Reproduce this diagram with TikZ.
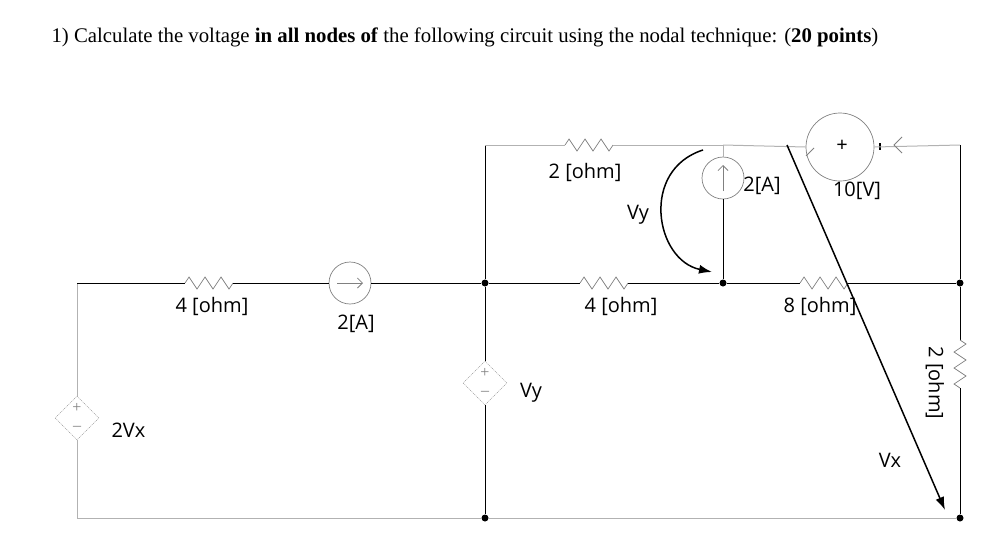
\documentclass[tikz,border=0pt]{standalone}
\usepackage{fontspec}
\setmainfont{Liberation Serif}
\newfontfamily\lab{Open Sans}
\usetikzlibrary{shapes.geometric,arrows.meta,decorations.pathmorphing}
\begin{document}
\begin{tikzpicture}[x=1pt,y=-1pt,
  wire/.style={line width=1pt},
  gwire/.style={line width=1pt,gray!60},
  res/.style={decorate,decoration={zigzag,segment length=16pt,amplitude=6pt},line width=0.7pt,gray},
  srcc/.style={circle,draw=gray,line width=0.7pt,minimum size=42pt,inner sep=0pt},
  dep/.style={diamond,draw=gray,dashed,dash pattern=on 1pt off 1pt,minimum size=44pt,inner sep=0pt,fill=white},
  lbl/.style={font=\lab\fontsize{20}{24}\selectfont},
  pm/.style={gray,font=\fontsize{16}{16}\selectfont},
  dot/.style={circle,fill=black,inner sep=0pt,minimum size=7pt}]
\useasboundingbox (0,0) rectangle (990,558);
\node[anchor=west,font=\fontsize{20.8}{24}\selectfont] (title) at (48,37) {1) Calculate the voltage \textbf{in all nodes of} the following circuit using the nodal technique: (\textbf{20 points})};
% nodes
\coordinate (tl) at (485,145); \coordinate (tr) at (960,145);
\coordinate (ml) at (77,283);
\node[dot] (n1) at (485,283) {}; \node[dot] (n2) at (723,283) {};
\node[dot] (n3) at (960,283) {}; \node[dot] (b1) at (485,518) {};
\node[dot] (b2) at (960,518) {}; \coordinate (bl) at (77,518);
\coordinate (t2) at (723,145);
% left branch
\node[dep] (d1) at (77,418) {}; \node[pm] at (77,408) {+}; \node[pm] at (77,428) {--};
\draw[gwire] (ml) -- (d1.north); \draw[gwire] (d1.south) -- (bl);
\node[lbl,anchor=west] (l2vx) at (108,430) {2Vx};
% top-left wire
\coordinate (r1a) at (185,283); \coordinate (r1b) at (233,283);
\draw[wire] (ml) -- (r1a); \draw[res] (r1a) -- (r1b);
\node[srcc] (cs1) at (350,283) {};
\draw[-{Straight Barb[length=5pt,width=10pt]},gray,line width=0.8pt] (337,283) -- (363,283);
\draw[wire] (r1b) -- (cs1.west); \draw[wire] (cs1.east) -- (n1);
\node[lbl] (l4a) at (212,306) {4 [ohm]};
\node[lbl] (l2a) at (356,324) {2[A]};
% middle vertical
\node[dep] (d2) at (485,383) {}; \node[pm] at (485,373) {+}; \node[pm] at (485,393) {--};
\draw[wire] (tl) -- (n1) -- (d2.north); \draw[wire] (d2.south) -- (b1);
\node[lbl] (lvy) at (531,393) {Vy};
% bottom
\draw[gwire] (bl) -- (b1); \draw[gwire] (b1) -- (b2);
% top wire
\coordinate (r2a) at (565,145); \coordinate (r2b) at (613,145);
\draw[gwire] (tl) -- (r2a); \draw[res] (r2a) -- (r2b); \draw[gwire] (r2b) -- (t2);
\node[lbl] (l2o) at (585,172) {2 [ohm]};
% middle wire
\coordinate (r3a) at (580,283); \coordinate (r3b) at (628,283);
\draw[wire] (n1) -- (r3a); \draw[res] (r3a) -- (r3b); \draw[wire] (r3b) -- (n2);
\node[lbl] (l4b) at (621,306) {4 [ohm]};
% current source 2A up
\node[srcc] (cs2) at (723,178) {};
\draw[-{Straight Barb[length=5pt,width=10pt]},gray,line width=0.8pt] (723,191) -- (723,165);
\draw[wire] (n2) -- (cs2.south); \draw[gwire] (cs2.north) -- (t2);
\node[lbl] (l2b) at (762,186) {2[A]};
% 10V source
\node[srcc,minimum size=68pt] (vs) at (840,147) {};
\node[font=\bfseries\fontsize{20}{20}\selectfont] at (842,146) {+};
\draw[line width=1.3pt] (880,143) -- (880,150);
\draw[gwire] (t2) -- (vs.west); \draw[gwire] (vs.east) -- (tr);
\draw[gray,line width=0.8pt] (806,156) -- (814,148) (902,137) -- (894,145) -- (902,153);
\node[lbl] (l10) at (857,191) {10[V]};
% 8 ohm
\coordinate (r4a) at (800,283); \coordinate (r4b) at (848,283);
\draw[wire] (n2) -- (r4a); \draw[res] (r4a) -- (r4b); \draw[wire] (r4b) -- (n3);
\node[lbl] (l8) at (820,306) {8 [ohm]};
% right branch
\coordinate (r5a) at (960,340); \coordinate (r5b) at (960,388);
\draw[wire] (tr) -- (n3) -- (r5a); \draw[res] (r5a) -- (r5b); \draw[wire] (r5b) -- (b2);
\node[lbl,rotate=-90] (l2r) at (935,383) {2 [ohm]};
% Vx arrow
\coordinate (vxa) at (787,145); \coordinate (vxb) at (945,510);
\draw[line width=1.5pt,-{Latex[length=13pt,width=9pt]}] (vxa) -- (vxb);
\node[lbl] (lvx) at (890,460) {Vx};
% Vy curved arrow
\coordinate (cya) at (703,150); \coordinate (cyb) at (712,272);
\draw[line width=1.5pt,-{Latex[length=13pt,width=9pt]}] (cya) .. controls (640,170) and (655,260) .. (cyb);
\node[lbl] (lvy2) at (638,215) {Vy};
\end{tikzpicture}
\end{document}
